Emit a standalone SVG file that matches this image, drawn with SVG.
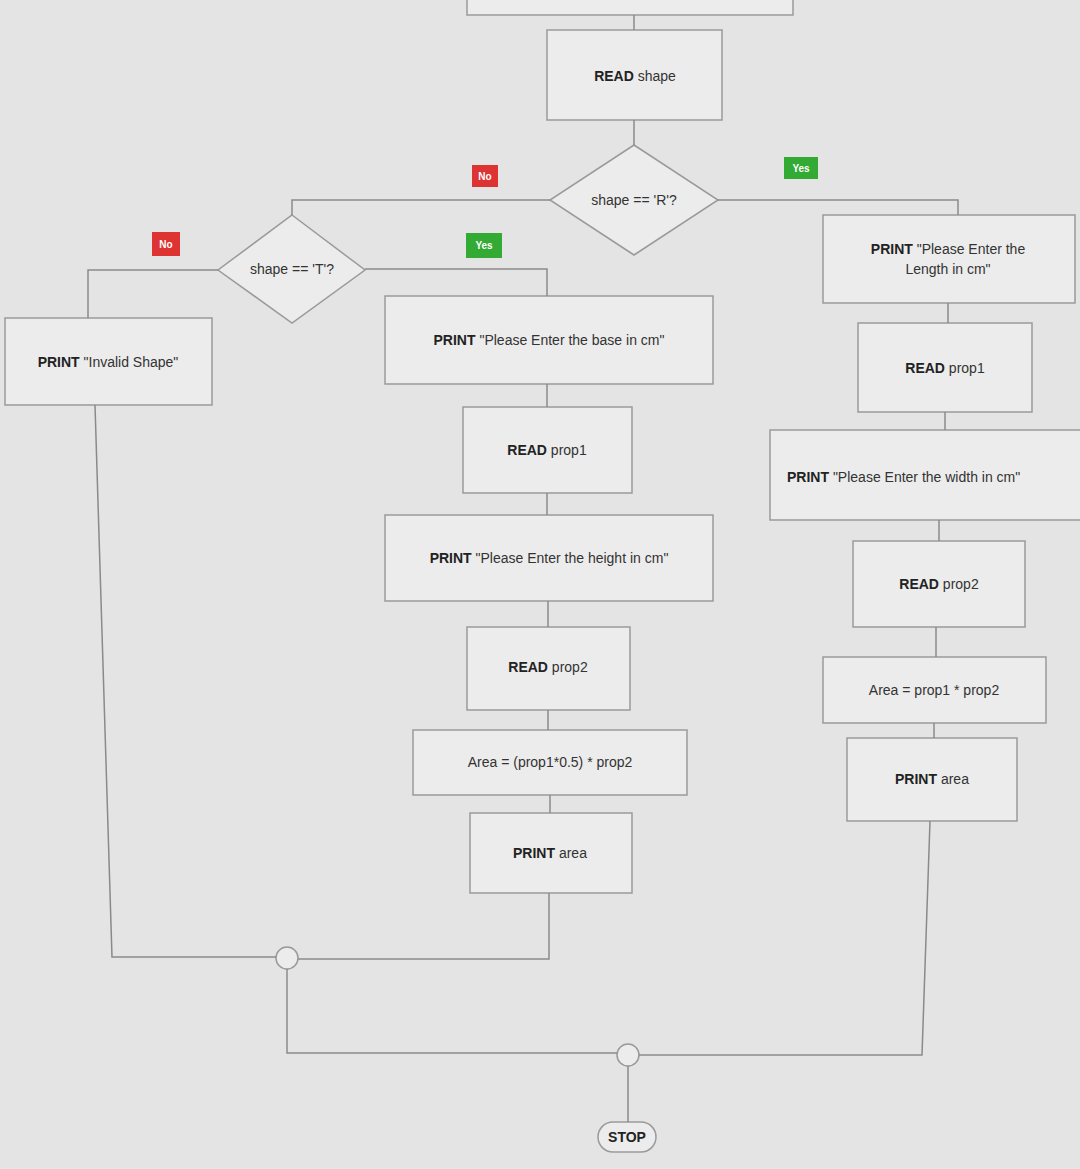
<svg xmlns="http://www.w3.org/2000/svg" width="1080" height="1169" viewBox="0 0 1080 1169">
<style>
.b{fill:#ececec;stroke:#9a9a9a;stroke-width:1.5}
.l{fill:none;stroke:#8a8a8a;stroke-width:1.5}
text{font-family:"Liberation Sans",Arial,sans-serif;font-size:14px;fill:#333;text-anchor:middle}
.k{font-weight:bold;fill:#222}
.t{font-size:10px;fill:#fff;font-weight:bold}
</style>
<rect width="1080" height="1169" fill="#e4e4e4"/>
<g id="top"><rect class="b" x="467" y="-5" width="326" height="20"/></g>
<g id="read_shape"><rect class="b" x="547" y="30" width="175" height="90"/><text x="635" y="81"><tspan class="k">READ</tspan> shape</text></g>
<g id="dR"><polygon class="b" points="634,145 718,200 634,255 550,200"/><text x="634" y="205" font-size="13">shape == 'R'?</text></g>
<g id="dT"><polygon class="b" points="292,215 365,270 292,323 218,270"/><text x="292" y="274" font-size="13">shape == 'T'?</text></g>
<g id="lbls">
<rect x="472" y="165" width="26" height="22" fill="#d33"/><text class="t" x="485" y="180">No</text>
<rect x="784" y="157" width="34" height="22" fill="#3a3"/><text class="t" x="801" y="172">Yes</text>
<rect x="152" y="232" width="28" height="24" fill="#d33"/><text class="t" x="166" y="248">No</text>
<rect x="466" y="233" width="36" height="25" fill="#3a3"/><text class="t" x="484" y="249">Yes</text>
</g>
<g id="invalid"><rect class="b" x="5" y="318" width="207" height="87"/><text x="108" y="367"><tspan class="k">PRINT</tspan> "Invalid Shape"</text></g>
<g id="pbase"><rect class="b" x="385" y="296" width="328" height="88"/><text x="549" y="345"><tspan class="k">PRINT</tspan> "Please Enter the base in cm"</text></g>
<g id="rp1"><rect class="b" x="463" y="407" width="169" height="86"/><text x="547" y="455"><tspan class="k">READ</tspan> prop1</text></g>
<g id="pheight"><rect class="b" x="385" y="515" width="328" height="86"/><text x="549" y="563"><tspan class="k">PRINT</tspan> "Please Enter the height in cm"</text></g>
<g id="rp2"><rect class="b" x="467" y="627" width="163" height="83"/><text x="548" y="672"><tspan class="k">READ</tspan> prop2</text></g>
<g id="areaT"><rect class="b" x="413" y="730" width="274" height="65"/><text x="550" y="767" font-size="13">Area = (prop1*0.5) * prop2</text></g>
<g id="printT"><rect class="b" x="470" y="813" width="162" height="80"/><text x="550" y="858"><tspan class="k">PRINT</tspan> area</text></g>
<g id="plen"><rect class="b" x="823" y="215" width="252" height="88"/><text x="948" y="254"><tspan class="k">PRINT</tspan> "Please Enter the</text><text x="948" y="274">Length in cm"</text></g>
<g id="rp1r"><rect class="b" x="858" y="323" width="174" height="89"/><text x="945" y="373"><tspan class="k">READ</tspan> prop1</text></g>
<g id="pwid"><rect class="b" x="770" y="430" width="320" height="90"/><text x="787" y="482" style="text-anchor:start"><tspan class="k">PRINT</tspan> "Please Enter the width in cm"</text></g>
<g id="rp2r"><rect class="b" x="853" y="541" width="172" height="86"/><text x="939" y="589"><tspan class="k">READ</tspan> prop2</text></g>
<g id="areaR"><rect class="b" x="823" y="657" width="223" height="66"/><text x="934" y="695" font-size="13">Area = prop1 * prop2</text></g>
<g id="printR"><rect class="b" x="847" y="738" width="170" height="83"/><text x="932" y="784"><tspan class="k">PRINT</tspan> area</text></g>
<g id="m1"><circle class="b" cx="287" cy="958" r="11"/></g>
<g id="m2"><circle class="b" cx="628" cy="1055" r="11"/></g>
<g id="stop"><rect class="b" x="598" y="1122" width="58" height="30" rx="15"/><text x="627" y="1142" class="k" font-size="13">STOP</text></g>
<g id="connectors">
<path class="l" d="M634 15V30M634 120V145M550 200H292V215M718 200H958V215M218 270H88V318M365 269H547V296M547 384V407M547 493V515M548 601V627M548 710V730M550 795V813M948 303V323M945 412V430M939 520V541M936 627V657M934 723V738M95 405L112 957H276M549 893V959H298M287 969V1053H617M639 1055H922L930 821M628 1066V1122"/>
</g>
</svg>
